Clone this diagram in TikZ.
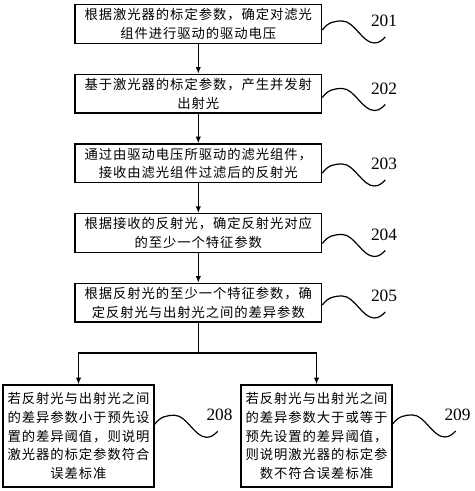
\documentclass[tikz,border=0pt]{standalone}
\usepackage{fontspec}
\setmainfont{Liberation Serif}
\newfontfamily\cjkfont[LetterSpace=7]{Noto Sans CJK SC}
\usetikzlibrary{arrows.meta}

\tikzset{every picture/.style={line width=0.75pt}}
\tikzset{
  stepbox/.style={draw, line width=1pt, inner sep=0.75pt, align=center,
    font=\cjkfont\fontsize{10}{14}\selectfont,
    minimum width=185pt, minimum height=29pt},
  endbox/.style={stepbox, minimum width=113.25pt, minimum height=76.5pt},
  numlabel/.style={inner sep=0.75pt, font=\fontsize{13}{13}\selectfont},
  arrowline/.style={line width=1pt, -{Latex[length=5pt,width=4pt]}},
  waveline/.style={line width=0.9pt}
}
% leader wave from a box edge to its step number
\newcommand\leadwave{.. controls +(6,-8) and +(-8,0) .. ++(20,-9) .. controls +(12,0) and +(-12,0) .. ++(32,22) .. controls +(5,0) and +(-3,3) .. ++(11,-6)}

\begin{document}
\begin{tikzpicture}[x=0.75pt,y=0.75pt,yscale=-1,xscale=1]
\useasboundingbox (0,0) rectangle (474,491);

% Step boxes
\node[stepbox] (s201) at (198.3,24) {根据激光器的标定参数，确定对滤光\\组件进行驱动的驱动电压};
\node[stepbox] (s202) at (198.3,93.7) {基于激光器的标定参数，产生并发射\\出射光};
\node[stepbox] (s203) at (198.3,163.4) {通过由驱动电压所驱动的滤光组件，\\接收由滤光组件过滤后的反射光};
\node[stepbox] (s204) at (198.3,233.1) {根据接收的反射光，确定反射光对应\\的至少一个特征参数};
\node[stepbox] (s205) at (198.3,302.8) {根据反射光的至少一个特征参数，确\\定反射光与出射光之间的差异参数};

% Result boxes
\node[endbox] (s208) at (78.5,436) {若反射光与出射光之间\\的差异参数小于预先设\\置的差异阈值，则说明\\激光器的标定参数符合\\误差标准};
\node[endbox] (s209) at (316.5,436) {若反射光与出射光之间\\的差异参数大于或等于\\预先设置的差异阈值，\\则说明激光器的标定参\\数不符合误差标准};

% Step numbers
\node[numlabel] (n201) at (384,21) {201};
\node[numlabel] (n202) at (384,88.5) {202};
\node[numlabel] (n203) at (384,164) {203};
\node[numlabel] (n204) at (384,234.5) {204};
\node[numlabel] (n205) at (384,296) {205};
\node[numlabel] (n208) at (219.5,415.3) {208};
\node[numlabel] (n209) at (457.5,415) {209};

% Flow
\draw[arrowline] (s201) -- (s202);
\draw[arrowline] (s202) -- (s203);
\draw[arrowline] (s203) -- (s204);
\draw[arrowline] (s204) -- (s205);
\coordinate (fork) at (198.3,353);
\draw[line width=1pt] (s205) -- (fork);
\draw[arrowline] (fork) -| (s208);
\draw[arrowline] (fork) -| (s209);

% Leader waves
\draw[waveline] (s201.east |- n201) ++(0,9) \leadwave;
\draw[waveline] (s202.east |- n202) ++(0,9) \leadwave;
\draw[waveline] (s203.east |- n203) ++(0,9) \leadwave;
\draw[waveline] (s204.east |- n204) ++(0,9) \leadwave;
\draw[waveline] (s205.east |- n205) ++(0,9) \leadwave;
\draw[waveline] (s208.east |- n208) ++(0,9) \leadwave;
\draw[waveline] (s209.east |- n209) ++(0,9) \leadwave;

\end{tikzpicture}
\end{document}
